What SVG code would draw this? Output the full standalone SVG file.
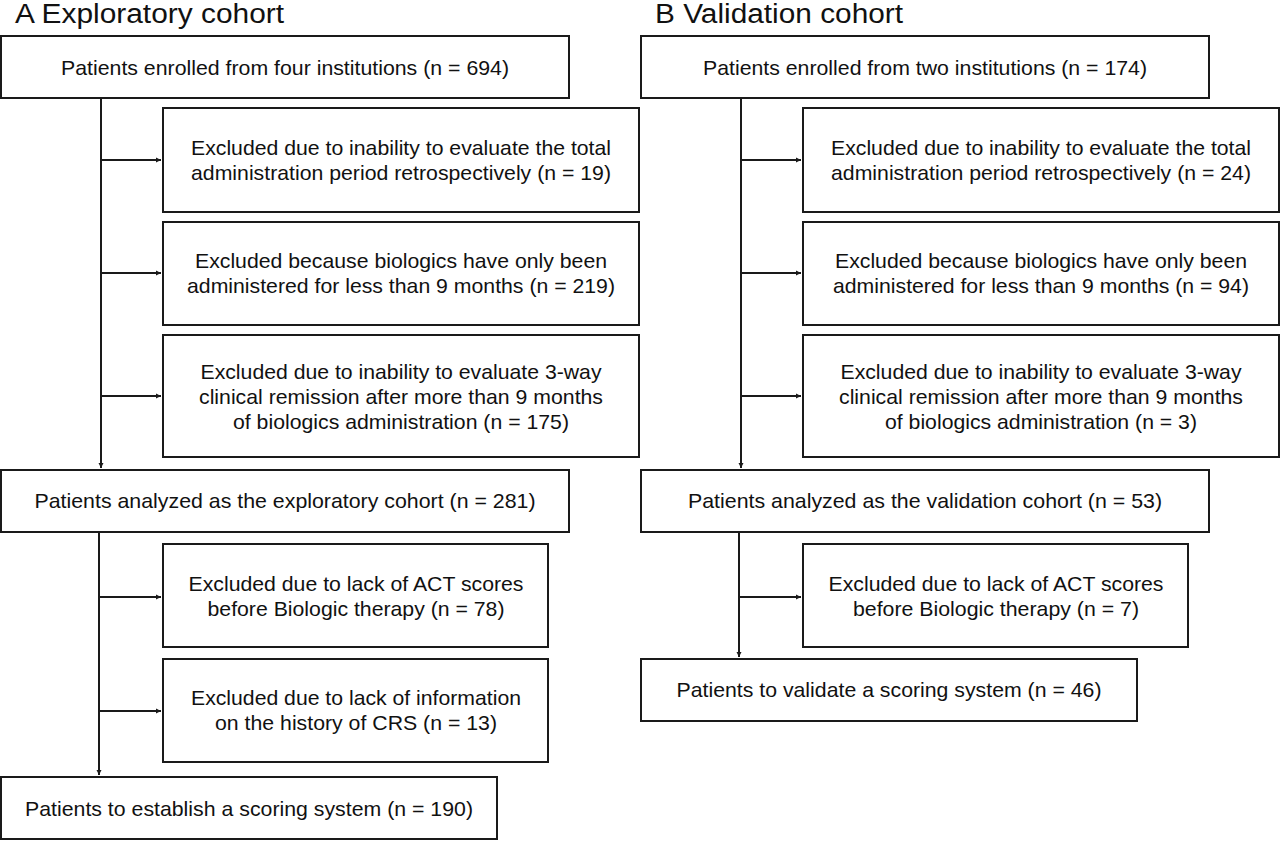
<svg xmlns="http://www.w3.org/2000/svg" width="1280" height="841" viewBox="0 0 1280 841">
<defs>
<style>
rect{fill:#fff;stroke:#1a1a1a;stroke-width:2}
text{font-family:"Liberation Sans",Arial,sans-serif;font-size:21px;fill:#111;text-anchor:middle}
.t{font-size:27px;text-anchor:start}
.c{stroke:#1a1a1a;stroke-width:2;fill:none}
</style>
<marker id="a" markerWidth="6" markerHeight="6" refX="5" refY="3" orient="auto" markerUnits="userSpaceOnUse"><path d="M0,0.5 L5,3 L0,5.5z" fill="#1a1a1a"/></marker>
</defs>
<rect x="0" y="0" width="1280" height="841" style="stroke:none"/>
<text class="t" x="15" y="23" textLength="269" lengthAdjust="spacingAndGlyphs">A  Exploratory cohort</text>
<text class="t" x="655" y="23" textLength="248" lengthAdjust="spacingAndGlyphs">B  Validation cohort</text>
<g id="connectors">
<path class="c" d="M101,98 V468" marker-end="url(#a)"/>
<path class="c" d="M101,160 H161" marker-end="url(#a)"/>
<path class="c" d="M101,273 H161" marker-end="url(#a)"/>
<path class="c" d="M101,396 H161" marker-end="url(#a)"/>
<path class="c" d="M99,532 V775" marker-end="url(#a)"/>
<path class="c" d="M99,597 H161" marker-end="url(#a)"/>
<path class="c" d="M99,711 H161" marker-end="url(#a)"/>
<path class="c" d="M741,98 V468" marker-end="url(#a)"/>
<path class="c" d="M741,160 H801" marker-end="url(#a)"/>
<path class="c" d="M741,273 H801" marker-end="url(#a)"/>
<path class="c" d="M741,396 H801" marker-end="url(#a)"/>
<path class="c" d="M739,532 V657" marker-end="url(#a)"/>
<path class="c" d="M739,597 H801" marker-end="url(#a)"/>
</g>
<g id="a1"><rect x="1" y="36" width="568" height="62"/><text x="285" y="75" textLength="448" lengthAdjust="spacingAndGlyphs">Patients enrolled from four institutions (n = 694)</text></g>
<g id="a2"><rect x="163" y="108" width="476" height="104"/><text x="401" y="155" textLength="420" lengthAdjust="spacingAndGlyphs">Excluded due to inability to evaluate the total</text><text x="401" y="180" textLength="420" lengthAdjust="spacingAndGlyphs">administration period retrospectively (n = 19)</text></g>
<g id="a3"><rect x="163" y="222" width="476" height="103"/><text x="401" y="268" textLength="412" lengthAdjust="spacingAndGlyphs">Excluded because biologics have only been</text><text x="401" y="293" textLength="428" lengthAdjust="spacingAndGlyphs">administered for less than 9 months (n = 219)</text></g>
<g id="a4"><rect x="163" y="335" width="476" height="122"/><text x="401" y="379" textLength="401" lengthAdjust="spacingAndGlyphs">Excluded due to inability to evaluate 3-way</text><text x="401" y="404" textLength="404" lengthAdjust="spacingAndGlyphs">clinical remission after more than 9 months</text><text x="401" y="429" textLength="336" lengthAdjust="spacingAndGlyphs">of biologics administration (n = 175)</text></g>
<g id="a5"><rect x="1" y="470" width="568" height="62"/><text x="285" y="508" textLength="501" lengthAdjust="spacingAndGlyphs">Patients analyzed as the exploratory cohort (n = 281)</text></g>
<g id="a6"><rect x="163" y="544" width="385" height="103"/><text x="356" y="591" textLength="335" lengthAdjust="spacingAndGlyphs">Excluded due to lack of ACT scores</text><text x="356" y="616" textLength="297" lengthAdjust="spacingAndGlyphs">before Biologic therapy (n = 78)</text></g>
<g id="a7"><rect x="163" y="659" width="385" height="103"/><text x="356" y="705" textLength="330" lengthAdjust="spacingAndGlyphs">Excluded due to lack of information</text><text x="356" y="730" textLength="282" lengthAdjust="spacingAndGlyphs">on the history of CRS (n = 13)</text></g>
<g id="a8"><rect x="1" y="777" width="496" height="62"/><text x="249" y="816" textLength="448" lengthAdjust="spacingAndGlyphs">Patients to establish a scoring system (n = 190)</text></g>
<g id="b1"><rect x="641" y="36" width="568" height="62"/><text x="925" y="75" textLength="444" lengthAdjust="spacingAndGlyphs">Patients enrolled from two institutions (n = 174)</text></g>
<g id="b2"><rect x="803" y="108" width="476" height="104"/><text x="1041" y="155" textLength="420" lengthAdjust="spacingAndGlyphs">Excluded due to inability to evaluate the total</text><text x="1041" y="180" textLength="420" lengthAdjust="spacingAndGlyphs">administration period retrospectively (n = 24)</text></g>
<g id="b3"><rect x="803" y="222" width="476" height="103"/><text x="1041" y="268" textLength="412" lengthAdjust="spacingAndGlyphs">Excluded because biologics have only been</text><text x="1041" y="293" textLength="416" lengthAdjust="spacingAndGlyphs">administered for less than 9 months (n = 94)</text></g>
<g id="b4"><rect x="803" y="335" width="476" height="122"/><text x="1041" y="379" textLength="401" lengthAdjust="spacingAndGlyphs">Excluded due to inability to evaluate 3-way</text><text x="1041" y="404" textLength="404" lengthAdjust="spacingAndGlyphs">clinical remission after more than 9 months</text><text x="1041" y="429" textLength="312" lengthAdjust="spacingAndGlyphs">of biologics administration (n = 3)</text></g>
<g id="b5"><rect x="641" y="470" width="568" height="62"/><text x="925" y="508" textLength="474" lengthAdjust="spacingAndGlyphs">Patients analyzed as the validation cohort (n = 53)</text></g>
<g id="b6"><rect x="803" y="544" width="385" height="103"/><text x="996" y="591" textLength="335" lengthAdjust="spacingAndGlyphs">Excluded due to lack of ACT scores</text><text x="996" y="616" textLength="286" lengthAdjust="spacingAndGlyphs">before Biologic therapy (n = 7)</text></g>
<g id="b7"><rect x="641" y="659" width="496" height="62"/><text x="889" y="697" textLength="425" lengthAdjust="spacingAndGlyphs">Patients to validate a scoring system (n = 46)</text></g>
</svg>
